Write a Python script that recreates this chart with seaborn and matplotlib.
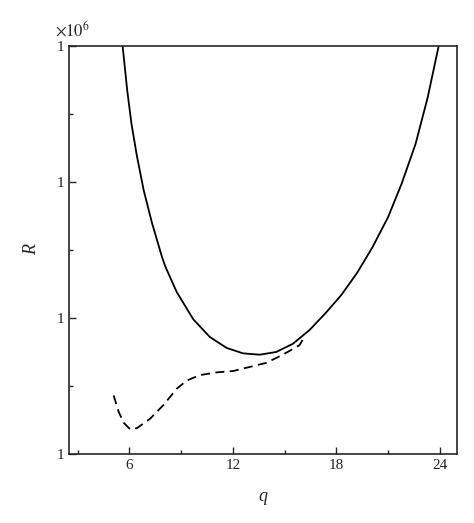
import seaborn as sns
import matplotlib.pyplot as plt
import pandas as pd
from matplotlib.ticker import FixedLocator, FormatStrFormatter

# values, R in units of 1e6
q_solid = [5.61, 5.87, 6.12, 6.44, 6.83, 7.31, 7.89, 8.08, 8.75, 9.71, 10.67,
           11.64, 12.59, 13.56, 14.52, 15.48, 16.44, 17.41, 18.30, 19.20,
           20.10, 21.00, 21.80, 22.60, 23.30, 23.94]
r_solid = [1.300, 1.268, 1.243, 1.219, 1.194, 1.170, 1.145, 1.138, 1.119, 1.099,
           1.086, 1.078, 1.074, 1.073, 1.075, 1.081, 1.091, 1.104, 1.117, 1.133,
           1.152, 1.174, 1.199, 1.228, 1.262, 1.300]

q_dash = [5.09, 5.38, 5.67, 6.06, 6.44, 7.21, 7.98, 8.75, 9.33, 10.10, 11.06,
          12.02, 12.98, 13.94, 14.90, 15.87, 16.15]
r_dash = [1.043, 1.031, 1.023, 1.018, 1.019, 1.026, 1.036, 1.048, 1.054, 1.058,
          1.060, 1.061, 1.064, 1.067, 1.073, 1.080, 1.086]

x_ticks = [6, 12, 18, 24]
y_ticks = [1.0, 1.1, 1.2, 1.3]

sns.set_style("ticks")
plt.rcParams['font.family'] = ['Liberation Serif', 'DejaVu Serif']
plt.rcParams['mathtext.fontset'] = 'stix'

solid = pd.DataFrame({"q": q_solid, "R": r_solid})
dash = pd.DataFrame({"q": q_dash, "R": r_dash})

fig = plt.figure(figsize=(4.74, 5.23), dpi=100)
ax = fig.add_axes([0.1456, 0.132, 0.8184, 0.780])

sns.lineplot(data=solid, x="q", y="R", ax=ax, color="black", lw=1.3, sort=False)
sns.lineplot(data=dash, x="q", y="R", ax=ax, color="black", lw=1.3, sort=False,
             linestyle=(0, (5, 3)))

ax.set_xlim(2.5, 25)
ax.set_ylim(1.0, 1.3)
ax.xaxis.set_major_locator(FixedLocator(x_ticks))
ax.xaxis.set_minor_locator(FixedLocator([3, 9, 15, 21]))
ax.yaxis.set_major_locator(FixedLocator(y_ticks))
ax.yaxis.set_minor_locator(FixedLocator([1.05, 1.15, 1.25]))
ax.yaxis.set_major_formatter(FormatStrFormatter('%.0f'))
ax.tick_params(which='major', direction='in', length=5, width=1, labelsize=11, top=False, right=False)
ax.tick_params(which='minor', direction='in', length=3, width=1, top=False, right=False)
for s in ax.spines.values():
    s.set_linewidth(1.2)

ax.set_xlabel("q", fontstyle='italic', fontsize=13, labelpad=12)
ax.set_ylabel("R", fontstyle='italic', fontsize=13, labelpad=12)
ax.text(-0.035, 1.015, r"$\times10^6$", transform=ax.transAxes, fontsize=12, ha='left', va='bottom')

fig.savefig("out.png", dpi=100)
